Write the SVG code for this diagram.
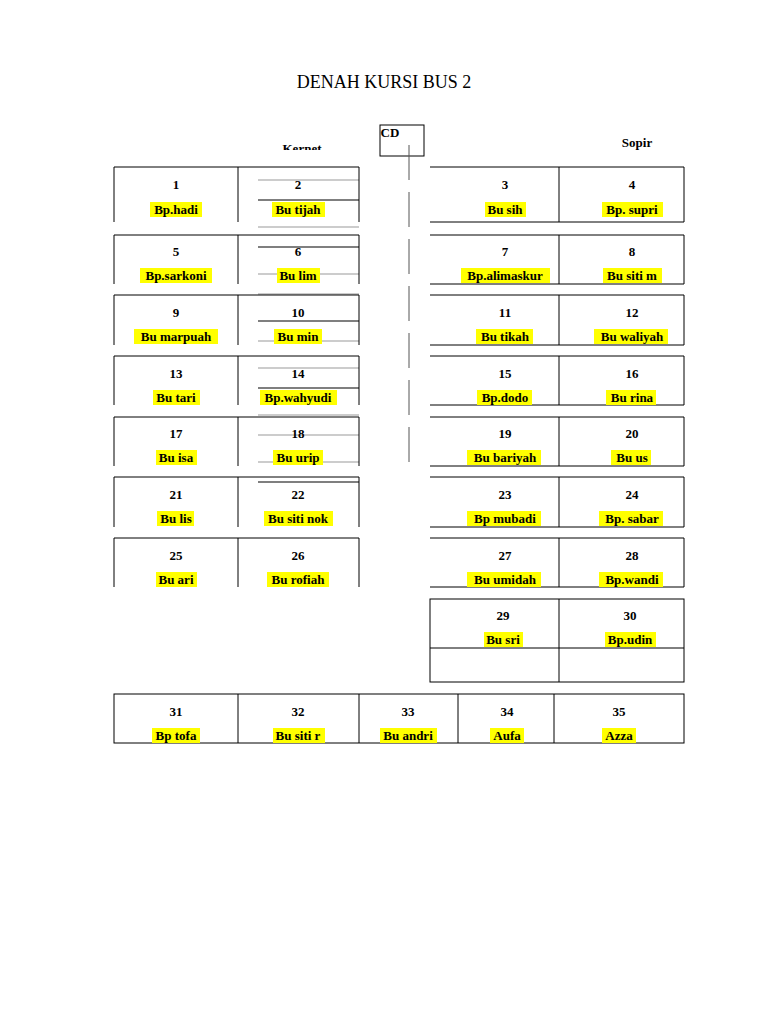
<svg xmlns="http://www.w3.org/2000/svg" width="768" height="1024" viewBox="0 0 768 1024">
<style>
text{font-family:"Liberation Serif",serif;font-size:13px;font-weight:bold;text-anchor:middle;fill:#000}
.t{font-size:18px;font-weight:normal}
.b{stroke:#000;stroke-width:1;fill:none}
.g{stroke:#999;stroke-width:1.2}
.h{fill:#ffff00}
</style>
<rect width="768" height="1024" fill="#fff"/>
<text class="t" x="384" y="88">DENAH KURSI BUS 2</text>
<g id="cd"><rect class="b" x="380" y="125" width="44" height="31"/><text x="390" y="137">CD</text></g>
<text x="302" y="153">Kernet</text>
<rect x="270" y="150" width="70" height="10" fill="#fff"/>
<text x="637" y="147">Sopir</text>
<g id="connectors">
<line x1="409" y1="145" x2="409" y2="462" stroke="#555" stroke-dasharray="35,12"/>
<g class="g">
<line x1="258" y1="180" x2="359" y2="180"/><line x1="258" y1="200" x2="359" y2="200" stroke="#000"/><line x1="258" y1="227" x2="359" y2="227"/>
<line x1="258" y1="247" x2="359" y2="247" stroke="#000"/><line x1="258" y1="274" x2="359" y2="274"/><line x1="258" y1="294" x2="359" y2="294"/>
<line x1="258" y1="321" x2="359" y2="321" stroke="#000"/><line x1="258" y1="341" x2="359" y2="341"/><line x1="258" y1="368" x2="359" y2="368"/>
<line x1="258" y1="388" x2="359" y2="388" stroke="#000"/><line x1="258" y1="415" x2="359" y2="415"/><line x1="258" y1="435" x2="359" y2="435"/>
<line x1="258" y1="462" x2="359" y2="462"/><line x1="258" y1="482" x2="359" y2="482" stroke="#000"/>
</g>
</g>
<g id="rows" class="b">
<path d="M114,222V167H359V222M238,167V222M430,167H684V222H430M559,167V222"/>
<path d="M114,284V235H359V284M238,235V284M430,235H684V284H430M559,235V284"/>
<path d="M114,345V295H359V345M238,295V345M430,295H684V345H430M559,295V345"/>
<path d="M114,405V356H359V405M238,356V405M430,356H684V405H430M559,356V405"/>
<path d="M114,466V417H359V466M238,417V466M430,417H684V466H430M559,417V466"/>
<path d="M114,527V477H359V527M238,477V527M430,477H684V527H430M559,477V527"/>
<path d="M114,587V538H359V587M238,538V587M430,538H684V587H430M559,538V587"/>
<rect x="430" y="599" width="254" height="83"/><path d="M559,599V682M430,648H684"/>
<rect x="114" y="694" width="570" height="49"/><path d="M238,694V743M359,694V743M458,694V743M554,694V743"/>
</g>
<g id="r1"><text x="176" y="189">1</text><rect class="h" x="150" y="202" width="52" height="15"/><text x="176" y="214">Bp.hadi</text>
<text x="298" y="189">2</text><rect class="h" x="272" y="202" width="53" height="15"/><text x="298" y="214">Bu tijah</text>
<text x="505" y="189">3</text><rect class="h" x="485" y="202" width="41" height="15"/><text x="505" y="214">Bu sih</text>
<text x="632" y="189">4</text><rect class="h" x="602" y="202" width="61" height="15"/><text x="632" y="214">Bp. supri</text></g>
<g id="r2"><text x="176" y="256">5</text><rect class="h" x="140" y="268" width="72" height="15"/><text x="176" y="280">Bp.sarkoni</text>
<text x="298" y="256">6</text><rect class="h" x="277" y="268" width="43" height="15"/><text x="298" y="280">Bu lim</text>
<text x="505" y="256">7</text><rect class="h" x="461" y="268" width="89" height="15"/><text x="505" y="280">Bp.alimaskur</text>
<text x="632" y="256">8</text><rect class="h" x="603" y="268" width="59" height="15"/><text x="632" y="280">Bu siti m</text></g>
<g id="r3"><text x="176" y="317">9</text><rect class="h" x="134" y="329" width="84" height="15"/><text x="176" y="341">Bu marpuah</text>
<text x="298" y="317">10</text><rect class="h" x="274" y="329" width="48" height="15"/><text x="298" y="341">Bu min</text>
<text x="505" y="317">11</text><rect class="h" x="476" y="329" width="57" height="15"/><text x="505" y="341">Bu tikah</text>
<text x="632" y="317">12</text><rect class="h" x="594" y="329" width="74" height="15"/><text x="632" y="341">Bu waliyah</text></g>
<g id="r4"><text x="176" y="378">13</text><rect class="h" x="153" y="390" width="47" height="15"/><text x="176" y="402">Bu tari</text>
<text x="298" y="378">14</text><rect class="h" x="260" y="390" width="77" height="15"/><text x="298" y="402">Bp.wahyudi</text>
<text x="505" y="378">15</text><rect class="h" x="477" y="390" width="55" height="15"/><text x="505" y="402">Bp.dodo</text>
<text x="632" y="378">16</text><rect class="h" x="606" y="390" width="50" height="15"/><text x="632" y="402">Bu rina</text></g>
<g id="r5"><text x="176" y="438">17</text><rect class="h" x="156" y="450" width="41" height="15"/><text x="176" y="462">Bu isa</text>
<text x="298" y="438">18</text><rect class="h" x="273" y="450" width="50" height="15"/><text x="298" y="462">Bu urip</text>
<text x="505" y="438">19</text><rect class="h" x="467" y="450" width="74" height="15"/><text x="505" y="462">Bu bariyah</text>
<text x="632" y="438">20</text><rect class="h" x="611" y="450" width="40" height="15"/><text x="632" y="462">Bu us</text></g>
<g id="r6"><text x="176" y="499">21</text><rect class="h" x="157" y="511" width="37" height="15"/><text x="176" y="523">Bu lis</text>
<text x="298" y="499">22</text><rect class="h" x="264" y="511" width="69" height="15"/><text x="298" y="523">Bu siti nok</text>
<text x="505" y="499">23</text><rect class="h" x="467" y="511" width="74" height="15"/><text x="505" y="523">Bp mubadi</text>
<text x="632" y="499">24</text><rect class="h" x="599" y="511" width="64" height="15"/><text x="632" y="523">Bp. sabar</text></g>
<g id="r7"><text x="176" y="560">25</text><rect class="h" x="156" y="572" width="41" height="15"/><text x="176" y="584">Bu ari</text>
<text x="298" y="560">26</text><rect class="h" x="267" y="572" width="62" height="15"/><text x="298" y="584">Bu rofiah</text>
<text x="505" y="560">27</text><rect class="h" x="467" y="572" width="74" height="15"/><text x="505" y="584">Bu umidah</text>
<text x="632" y="560">28</text><rect class="h" x="599" y="572" width="64" height="15"/><text x="632" y="584">Bp.wandi</text></g>
<g id="r8"><text x="503" y="620">29</text><rect class="h" x="484" y="632" width="39" height="15"/><text x="503" y="644">Bu sri</text>
<text x="630" y="620">30</text><rect class="h" x="605" y="632" width="51" height="15"/><text x="630" y="644">Bp.udin</text></g>
<g id="r9"><text x="176" y="716">31</text><rect class="h" x="152" y="728" width="48" height="15"/><text x="176" y="740">Bp tofa</text>
<text x="298" y="716">32</text><rect class="h" x="273" y="728" width="52" height="15"/><text x="298" y="740">Bu siti r</text>
<text x="408" y="716">33</text><rect class="h" x="380" y="728" width="57" height="15"/><text x="408" y="740">Bu andri</text>
<text x="507" y="716">34</text><rect class="h" x="490" y="728" width="34" height="15"/><text x="507" y="740">Aufa</text>
<text x="619" y="716">35</text><rect class="h" x="602" y="728" width="34" height="15"/><text x="619" y="740">Azza</text></g>
</svg>
